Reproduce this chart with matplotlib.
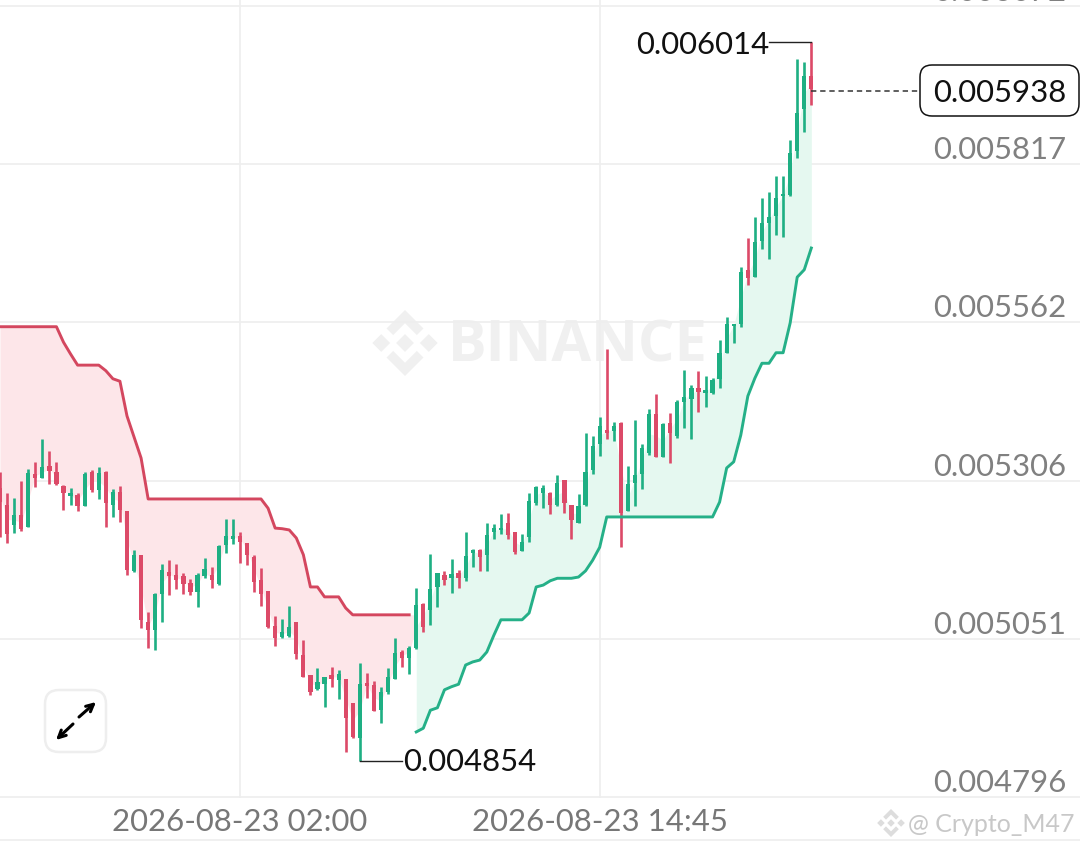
import matplotlib
matplotlib.use('Agg')
import matplotlib.pyplot as plt
import numpy as np
from matplotlib.patches import FancyBboxPatch, Polygon

# prices are in millionths, 15 minute candles
opens = [5294, 5267, 5235, 5251, 5232, 5318, 5311, 5330, 5321, 5298,
         5281, 5283, 5265, 5321, 5292, 5321, 5267, 5288, 5258, 5161,
         5186, 5079, 5065, 5123, 5159, 5154, 5152, 5141, 5127, 5152,
         5154, 5140, 5202, 5213, 5218, 5206, 5184, 5147, 5129, 5072,
         5055, 5056, 5078, 5025, 4993, 4970, 4979, 4993, 4985, 4986,
         4947, 4892, 4980, 4977, 4936, 4966, 4987, 5030, 5021, 5036,
         5107, 5098, 5135, 5154, 5150, 5157, 5149, 5189, 5195, 5187,
         5223, 5227, 5239, 5223, 5193, 5216, 5270, 5286, 5286, 5267,
         5308, 5267, 5239, 5267, 5324, 5366, 5388, 5386, 5399, 5258,
         5302, 5318, 5351, 5414, 5345, 5400, 5378, 5434, 5439, 5456,
         5448, 5448, 5470, 5513, 5556, 5560, 5647, 5636, 5694, 5723,
         5734, 5766, 5768, 5838, 5906, 5959]
highs = [5321, 5287, 5279, 5306, 5326, 5336, 5373, 5354, 5337, 5300,
         5295, 5286, 5320, 5323, 5328, 5322, 5293, 5298, 5258, 5194,
         5186, 5095, 5125, 5172, 5179, 5172, 5158, 5148, 5158, 5181,
         5167, 5202, 5245, 5244, 5224, 5206, 5186, 5166, 5129, 5088,
         5083, 5104, 5078, 5049, 4993, 5004, 4990, 5006, 5001, 4987,
         4947, 5012, 4996, 4983, 4973, 5004, 5052, 5034, 5039, 5134,
         5109, 5188, 5158, 5160, 5180, 5163, 5223, 5196, 5196, 5239,
         5237, 5253, 5254, 5223, 5221, 5286, 5298, 5299, 5288, 5316,
         5308, 5267, 5285, 5383, 5379, 5409, 5519, 5402, 5402, 5330,
         5404, 5366, 5422, 5446, 5399, 5416, 5436, 5485, 5461, 5484,
         5475, 5473, 5534, 5571, 5560, 5652, 5698, 5732, 5762, 5773,
         5799, 5798, 5856, 5987, 5983, 6014]
lows = [5216, 5206, 5222, 5225, 5232, 5296, 5311, 5301, 5299, 5260,
        5267, 5258, 5265, 5289, 5277, 5232, 5248, 5240, 5154, 5159,
        5069, 5037, 5034, 5079, 5122, 5131, 5124, 5122, 5103, 5149,
        5134, 5138, 5190, 5204, 5174, 5170, 5127, 5104, 5068, 5040,
        5053, 5054, 5018, 4989, 4961, 4969, 4941, 4974, 4954, 4869,
        4892, 4854, 4955, 4934, 4916, 4963, 4987, 5006, 4994, 5035,
        5063, 5074, 5103, 5138, 5125, 5133, 5145, 5168, 5161, 5161,
        5212, 5221, 5213, 5188, 5193, 5208, 5267, 5262, 5253, 5265,
        5254, 5213, 5238, 5265, 5317, 5346, 5373, 5370, 5199, 5257,
        5266, 5293, 5348, 5344, 5344, 5335, 5375, 5391, 5373, 5417,
        5425, 5446, 5456, 5513, 5529, 5554, 5622, 5635, 5680, 5664,
        5703, 5700, 5766, 5828, 5869, 5913]
closes = [5272, 5221, 5251, 5228, 5319, 5311, 5329, 5322, 5301, 5287,
          5287, 5265, 5318, 5292, 5319, 5270, 5288, 5259, 5162, 5186,
          5081, 5065, 5123, 5162, 5152, 5146, 5140, 5127, 5154, 5164,
          5146, 5201, 5217, 5218, 5208, 5186, 5143, 5123, 5070, 5052,
          5063, 5071, 5027, 4989, 4966, 4982, 4990, 4987, 4994, 4923,
          4893, 4979, 4975, 4935, 4966, 4990, 5028, 5020, 5037, 5106,
          5071, 5131, 5157, 5146, 5156, 5149, 5185, 5195, 5183, 5219,
          5230, 5230, 5219, 5192, 5208, 5273, 5297, 5294, 5267, 5302,
          5270, 5243, 5265, 5321, 5363, 5394, 5384, 5394, 5254, 5301,
          5316, 5359, 5414, 5344, 5398, 5383, 5434, 5442, 5456, 5450,
          5453, 5469, 5513, 5560, 5559, 5644, 5633, 5691, 5723, 5732,
          5762, 5770, 5835, 5900, 5959, 5938]

# supertrend, the red part covers candles 0-58, the green part 59-115
trend_down = [5555, 5555, 5555, 5555, 5555, 5555, 5555, 5555, 5555, 5530,
              5511, 5493, 5493, 5493, 5493, 5484, 5471, 5467, 5411, 5377,
              5343, 5277, 5277, 5277, 5277, 5277, 5277, 5277, 5277, 5277,
              5277, 5277, 5277, 5277, 5277, 5277, 5277, 5277, 5262, 5230,
              5229, 5227, 5214, 5187, 5135, 5135, 5119, 5119, 5119, 5101,
              5090, 5090, 5090, 5090, 5090, 5090, 5090, 5090, 5090]
trend_up = [4901, 4907, 4936, 4940, 4969, 4974, 4978, 5009, 5014, 5017,
            5030, 5057, 5082, 5082, 5082, 5082, 5093, 5135, 5138, 5145,
            5149, 5149, 5149, 5151, 5161, 5178, 5199, 5248, 5248, 5248,
            5248, 5248, 5248, 5248, 5248, 5248, 5248, 5248, 5248, 5248,
            5248, 5248, 5248, 5272, 5327, 5337, 5380, 5443, 5472, 5496,
            5496, 5513, 5513, 5561, 5635, 5647, 5682]

price_ticks = [6072, 5817, 5562, 5306, 5051, 4796]
time_ticks = [34, 85]
time_labels = ['2026-08-23 02:00', '2026-08-23 14:45']

last_price = 5938
high_index = 115
low_index = 51

RED = '#dc4a68'
GREEN = '#1eaf83'
GRID = '#eeeeee'
FONT = 'Lato'
SIZE = 22.4


def price_text(value):
    return '%.6f' % (value / 1e6)


def draw_logo(ax, cx, cy, r, color):
    """
    The diamond mark, five pieces around the centre.
    """
    s = r * 0.27
    for dx, dy in [(0, 0), (-0.72, 0), (0.72, 0)]:
        x, y = cx + dx * r, cy + dy * r
        ax.add_patch(Polygon([(x - s, y), (x, y - s), (x + s, y), (x, y + s)],
                             facecolor=color, edgecolor='none'))
    for sign in [-1, 1]:
        pts = [(cx - 0.56 * r, cy + sign * 0.44 * r), (cx, cy + sign * r),
               (cx + 0.56 * r, cy + sign * 0.44 * r),
               (cx + 0.36 * r, cy + sign * 0.24 * r), (cx, cy + sign * 0.6 * r),
               (cx - 0.36 * r, cy + sign * 0.24 * r)]
        ax.add_patch(Polygon(pts, facecolor=color, edgecolor='none'))


def draw_decor(ax):
    """
    Everything that sits in screen pixels: watermark, button, price box.
    """
    ax.set_xlim(0, 1080)
    ax.set_ylim(848, 0)
    ax.axis('off')

    # watermark
    draw_logo(ax, 405, 343, 33, '#f0f0f0')
    ax.text(578, 347, 'BINANCE', fontsize=41.5, fontweight='bold', color='#f0f0f0',
            family='Open Sans', ha='center', va='center')
    draw_logo(ax, 891, 823, 14, '#dddddd')
    ax.text(908, 824, '@ Crypto_M47', fontsize=18, color='#c8c8c8', family=FONT,
            ha='left', va='center')

    # expand button
    ax.add_patch(FancyBboxPatch((53, 698), 45, 46, boxstyle='round,pad=8,rounding_size=14',
                                facecolor='white', edgecolor='#eeeeee', linewidth=1.8))
    for start, end in [((79, 717), (96, 702)), ((73, 724), (56, 740))]:
        ax.annotate('', xy=end, xytext=start,
                    arrowprops=dict(arrowstyle='->', color='black', lw=2.2,
                                    mutation_scale=13, shrinkA=0, shrinkB=0))

    # last price box
    ax.add_patch(FancyBboxPatch((930, 75), 139, 31, boxstyle='round,pad=10,rounding_size=12',
                                facecolor='white', edgecolor='#111111', linewidth=1.1))
    ax.text(1000, 93, price_text(last_price), fontsize=SIZE, color='#111111', family=FONT,
            ha='center', va='center')
    ax.plot([0, 1080], [840, 840], color=GRID, linewidth=1.2)


def draw_candles(ax):
    o, h, l, c = [np.array(a, dtype=float) for a in (opens, highs, lows, closes)]
    idx = np.arange(len(o))
    colors = [GREEN if b >= a else RED for a, b in zip(o, c)]

    # shaded band between the trend line and the candle bodies
    mid = (o + c) / 2
    n_down = len(trend_down)
    ax.fill_between(idx[:n_down + 1], np.append(trend_down, trend_down[-1]), mid[:n_down + 1],
                    color='#fde6e9', linewidth=0, zorder=1)
    ax.fill_between(idx[n_down:], trend_up, mid[n_down:],
                    color='#e5f8f0', linewidth=0, zorder=1)

    ax.vlines(idx, l, h, colors=colors, linewidth=1.9, zorder=3)
    ax.bar(idx, np.abs(c - o), bottom=np.minimum(o, c), width=0.6, color=colors,
           linewidth=0, zorder=3)

    ax.plot(idx[:n_down], trend_down, color='#d4475f', linewidth=2.1, zorder=4,
            solid_joinstyle='round')
    ax.plot(idx[n_down:], trend_up, color='#25b088', linewidth=2.1, zorder=4,
            solid_joinstyle='round')


def draw_axes(ax):
    for p in price_ticks:
        ax.axhline(p, color=GRID, linewidth=1.2, zorder=0)
        ax.annotate(price_text(p), xy=(1066 / 1080, p), xycoords=('axes fraction', 'data'),
                    xytext=(0, 10), textcoords='offset points', fontsize=SIZE,
                    color='#808080', family=FONT, ha='right', va='center')
    for t, label in zip(time_ticks, time_labels):
        ax.plot([t, t], [price_ticks[-1], ax.get_ylim()[1]], color=GRID, linewidth=1.2, zorder=0)
        ax.annotate(label, xy=(t, price_ticks[-1]), xycoords='data', xytext=(0, -18),
                    textcoords='offset points', fontsize=SIZE, color='#777777',
                    family=FONT, ha='center', va='center')


def draw_labels(ax):
    # highest and lowest price flags
    high_text = ax.annotate(price_text(highs[high_index]), xy=(high_index, highs[high_index]),
                            xytext=(-30.5, -2), textcoords='offset points', fontsize=SIZE,
                            color='#111111', family=FONT, ha='right', va='center')
    low_text = ax.annotate(price_text(lows[low_index]), xy=(low_index, lows[low_index]),
                           xytext=(31, -1), textcoords='offset points', fontsize=SIZE,
                           color='#111111', family=FONT, ha='left', va='center')
    ax.plot([high_index - 6, high_index], [highs[high_index]] * 2, color='#222222', linewidth=1.0,
            zorder=5)
    ax.plot([low_index, low_index + 6], [lows[low_index]] * 2, color='#222222', linewidth=1.0,
            zorder=5)

    # dashed leader to the box
    ax.plot([len(opens) - 1, 130.2], [last_price - 3, last_price - 3],
            color='#333333', linewidth=1.1, linestyle=(0, (3.5, 2.5)), zorder=5)


def main():
    fig = plt.figure(figsize=(10.8, 8.48), dpi=100)
    fig.patch.set_facecolor('white')

    deco = fig.add_axes([0, 0, 1, 1], zorder=0)
    draw_decor(deco)

    ax = fig.add_axes([0, 0, 1, 1], zorder=1)
    ax.patch.set_visible(False)
    ax.axis('off')

    # one candle is about 7.055 px wide, a price step of 255 is 158 px high
    ax.set_xlim(0, 1080 / 7.055)
    ax.set_ylim(4796 - 51 * 255 / 158, 4796 + 797 * 255 / 158)

    draw_axes(ax)
    draw_candles(ax)
    draw_labels(ax)

    fig.savefig('out.png', dpi=100)


# entry point
if __name__ == '__main__':
    main()
